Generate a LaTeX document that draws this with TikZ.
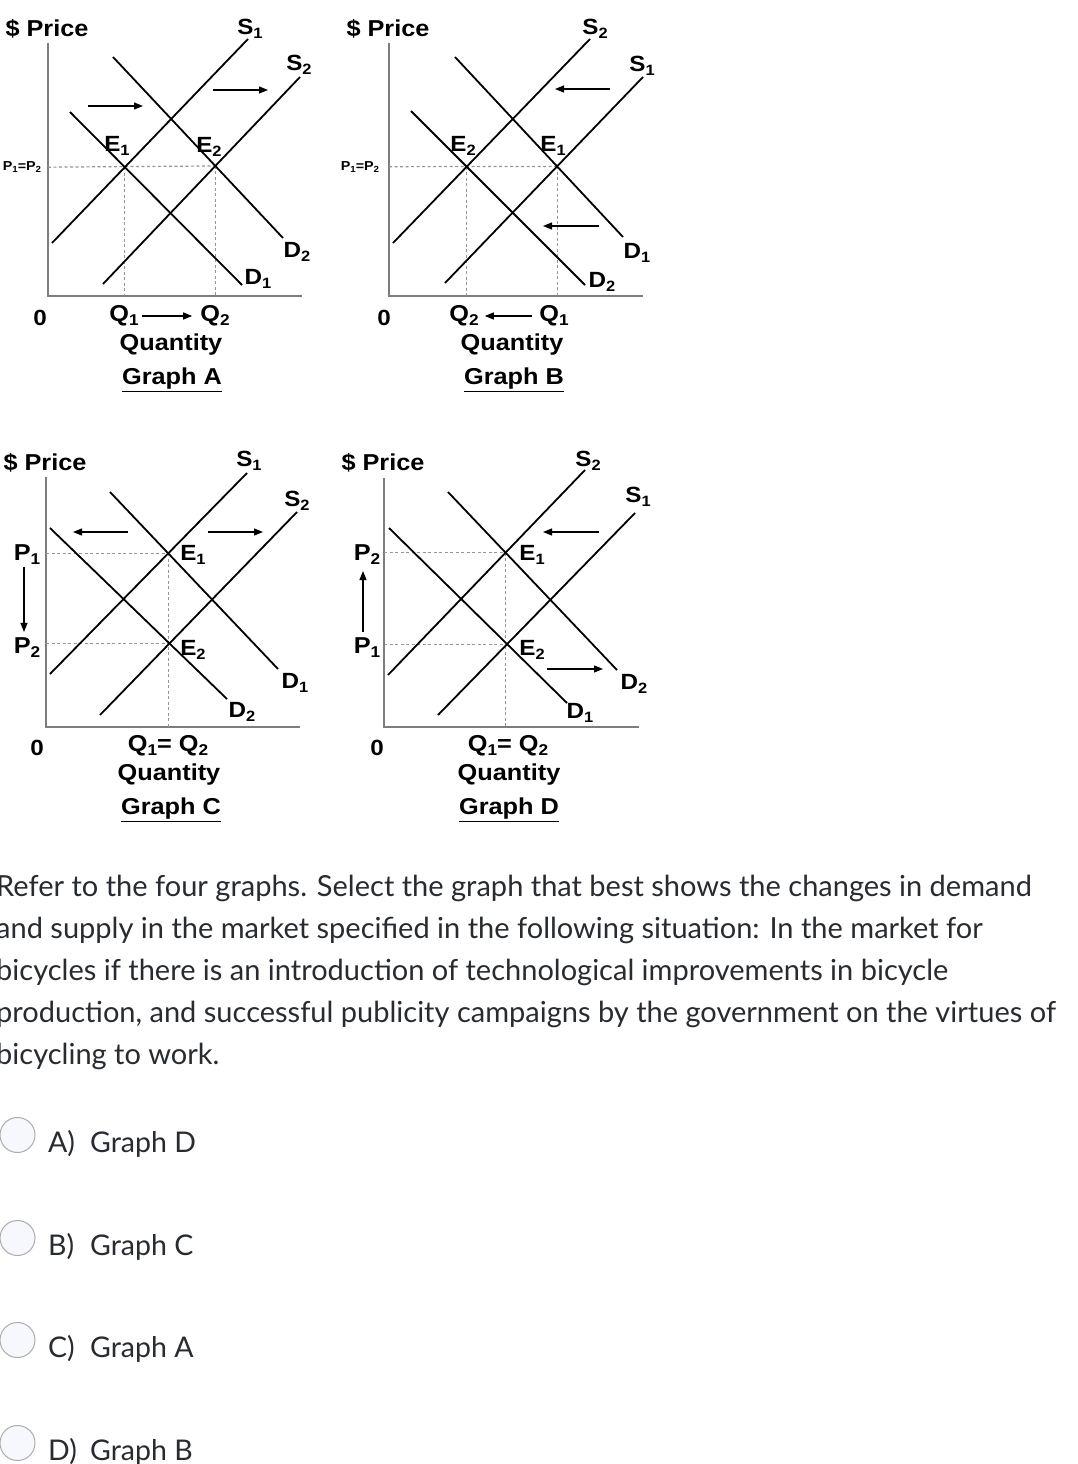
\documentclass[tikz,border=0pt]{standalone}
\usepackage{fontspec}
\setmainfont{Lato}
\newfontfamily\graphfont[FakeStretch=1.1]{Liberation Sans}
\usetikzlibrary{arrows.meta,positioning}
\definecolor{qtext}{RGB}{40,44,48}
\definecolor{axisgray}{RGB}{125,125,125}
\definecolor{dashgray}{RGB}{150,150,150}
\definecolor{radiofill}{RGB}{246,248,253}
\newcommand{\lowsub}[1]{\raisebox{-0.17em}{\scalebox{0.68}{#1}}}

\begin{document}
\begin{tikzpicture}[x=1pt, y=-1pt,
  curve/.style={line width=1.8pt, draw=black},
  axis/.style={line width=1.4pt, draw=axisgray},
  guide/.style={line width=1.2pt, draw=dashgray, dash pattern=on 3pt off 2.5pt},
  shiftarr/.style={line width=1.2pt, -{Triangle[length=9pt,width=7pt]}},
  lbl/.style={font=\graphfont\bfseries\fontsize{22}{24}\selectfont, inner sep=0pt},
  big/.style={font=\graphfont\bfseries\fontsize{23}{26}\selectfont, inner sep=0pt},
  plab/.style={font=\graphfont\bfseries\fontsize{13}{14}\selectfont, inner sep=0pt},
  uline/.style={line width=1.8pt},
  qline/.style={font=\fontsize{29}{36}\selectfont, text=qtext, anchor=base west, inner sep=0pt},
  radio/.style={circle, draw=gray!65, fill=radiofill, line width=1pt, minimum size=35pt, inner sep=0pt},
  opt/.style={font=\fontsize{28.5}{32}\selectfont, text=qtext, anchor=base west, inner sep=0pt}
]
\fill[white] (0,0) rectangle (1078,1464);
\useasboundingbox (0,0) rectangle (1078,1464);

% Graph A
\draw[axis] (48,43) -- (48,296) -- (302,296);
\coordinate (Aaxis) at (48,296);
\coordinate (As1a) at (52,243);  \coordinate (As1b) at (248,39);
\coordinate (As2a) at (103,284); \coordinate (As2b) at (300,77);
\coordinate (Ad1a) at (70,112);  \coordinate (Ad1b) at (242,285);
\coordinate (Ad2a) at (113,57);  \coordinate (Ad2b) at (283,238);
\coordinate (AE1) at (intersection of As1a--As1b and Ad1a--Ad1b);
\coordinate (AE2) at (intersection of As2a--As2b and Ad2a--Ad2b);
\draw[guide] (Aaxis |- AE1) -- (AE2);
\draw[guide] (AE1) -- (AE1 |- Aaxis);
\draw[guide] (AE2) -- (AE2 |- Aaxis);
\draw[curve] (As1a) -- (As1b);
\draw[curve] (As2a) -- (As2b);
\draw[curve] (Ad1a) -- (Ad1b);
\draw[curve] (Ad2a) -- (Ad2b);
\draw[shiftarr] (88,106) -- (143,106);
\draw[shiftarr] (213,90) -- (268,90);
\node[big] (Aprice) at (47,29) {\$ Price};
\node[lbl] (AS1) at (250,29) {S\lowsub{1}};
\node[lbl] (AS2) at (299,65) {S\lowsub{2}};
\node[lbl] (AlE1) at (117,146) {E\lowsub{1}};
\node[lbl] (AlE2) at (209,147) {E\lowsub{2}};
\node[lbl] (AD2) at (297,252) {D\lowsub{2}};
\node[lbl] (AD1) at (258,279) {D\lowsub{1}};
\node[plab] (AP) at (22,167) {P\lowsub{1}=P\lowsub{2}};
\node[lbl] (Azero) at (40,318) {0};
\node[big] (AQ1) at (124,316) {Q\lowsub{1}};
\node[big] (AQ2) at (215,316) {Q\lowsub{2}};
\draw[shiftarr, shorten <=3pt, shorten >=8pt] (AQ1) -- (AQ2);
\node[big] (Aqty) at (171,345) {Quantity};
\node[big] (Agraph) at (172,379) {Graph A};
\draw[uline] ([yshift=-1.5pt]Agraph.south west) -- ([yshift=-1.5pt]Agraph.south east);

% Graph B
\draw[axis] (389,43) -- (389,296) -- (643,296);
\coordinate (Baxis) at (389,296);
\coordinate (Bs2a) at (393,243); \coordinate (Bs2b) at (590,39);
\coordinate (Bs1a) at (445,283); \coordinate (Bs1b) at (643,77);
\coordinate (Bd2a) at (411,111); \coordinate (Bd2b) at (585,285);
\coordinate (Bd1a) at (455,57);  \coordinate (Bd1b) at (623,237);
\coordinate (BE2) at (intersection of Bs2a--Bs2b and Bd2a--Bd2b);
\coordinate (BE1) at (intersection of Bs1a--Bs1b and Bd1a--Bd1b);
\draw[guide] (Baxis |- BE2) -- (BE1);
\draw[guide] (BE2) -- (BE2 |- Baxis);
\draw[guide] (BE1) -- (BE1 |- Baxis);
\draw[curve] (Bs2a) -- (Bs2b);
\draw[curve] (Bs1a) -- (Bs1b);
\draw[curve] (Bd2a) -- (Bd2b);
\draw[curve] (Bd1a) -- (Bd1b);
\draw[shiftarr] (610,89) -- (555,89);
\draw[shiftarr] (599,226) -- (543,226);
\node[big] (Bprice) at (388,29) {\$ Price};
\node[lbl] (BS2) at (595,29) {S\lowsub{2}};
\node[lbl] (BS1) at (642,66) {S\lowsub{1}};
\node[lbl] (BlE2) at (463,146) {E\lowsub{2}};
\node[lbl] (BlE1) at (553,146) {E\lowsub{1}};
\node[plab] (BP) at (360,167) {P\lowsub{1}=P\lowsub{2}};
\node[lbl] (BD1) at (637,253) {D\lowsub{1}};
\node[lbl] (BD2) at (602,282) {D\lowsub{2}};
\node[lbl] (Bzero) at (384,318) {0};
\node[big] (BQ2) at (464,316) {Q\lowsub{2}};
\node[big] (BQ1) at (554,316) {Q\lowsub{1}};
\draw[shiftarr, shorten <=7pt, shorten >=6pt] (BQ1) -- (BQ2);
\node[big] (Bqty) at (512,345) {Quantity};
\node[big] (Bgraph) at (514,379) {Graph B};
\draw[uline] ([yshift=-1.5pt]Bgraph.south west) -- ([yshift=-1.5pt]Bgraph.south east);

% Graph C
\draw[axis] (46,477) -- (46,727) -- (300,727);
\coordinate (Caxis) at (46,727);
\coordinate (Cs1a) at (50,674);  \coordinate (Cs1b) at (247,473);
\coordinate (Cs2a) at (100,715); \coordinate (Cs2b) at (297,512);
\coordinate (Cd2a) at (50,528);  \coordinate (Cd2b) at (227,699);
\coordinate (Cd1a) at (110,492); \coordinate (Cd1b) at (278,669);
\coordinate (CE1) at (intersection of Cs1a--Cs1b and Cd1a--Cd1b);
\coordinate (CE2) at (intersection of Cs2a--Cs2b and Cd2a--Cd2b);
\draw[guide] (Caxis |- CE1) -- (CE1);
\draw[guide] (Caxis |- CE2) -- (CE2);
\draw[guide] (CE1) -- (CE1 |- Caxis);
\draw[curve] (Cs1a) -- (Cs1b);
\draw[curve] (Cs2a) -- (Cs2b);
\draw[curve] (Cd2a) -- (Cd2b);
\draw[curve] (Cd1a) -- (Cd1b);
\draw[shiftarr] (128,532) -- (73,532);
\draw[shiftarr] (208,532) -- (263,532);
\node[big] (Cprice) at (45,463) {\$ Price};
\node[lbl] (CS1) at (249,461) {S\lowsub{1}};
\node[lbl] (CS2) at (297,501) {S\lowsub{2}};
\node[lbl] (ClE1) at (193,555) {E\lowsub{1}};
\node[lbl] (ClE2) at (193,650) {E\lowsub{2}};
\node[lbl] (CD1) at (295,683) {D\lowsub{1}};
\node[lbl] (CD2) at (242,712) {D\lowsub{2}};
\node[big] (CP1) at (27,555) {P\lowsub{1}};
\node[big] (CP2) at (27,648) {P\lowsub{2}};
\draw[shiftarr] ([xshift=-3pt, yshift=-2pt]CP1.south) -- ([xshift=-3pt, yshift=6pt]CP2.north);
\node[lbl] (Czero) at (37,748) {0};
\node[big] (CQ) at (168,746) {Q\lowsub{1}= Q\lowsub{2}};
\node[big] (Cqty) at (169,775) {Quantity};
\node[big] (Cgraph) at (171,809) {Graph C};
\draw[uline] ([yshift=-1.5pt]Cgraph.south west) -- ([yshift=-1.5pt]Cgraph.south east);

% Graph D
\draw[axis] (384,478) -- (384,727) -- (639,727);
\coordinate (Daxis) at (384,727);
\coordinate (Ds2a) at (388,675); \coordinate (Ds2b) at (585,470);
\coordinate (Ds1a) at (438,715); \coordinate (Ds1b) at (635,513);
\coordinate (Dd1a) at (389,528); \coordinate (Dd1b) at (567,703);
\coordinate (Dd2a) at (448,492); \coordinate (Dd2b) at (617,670);
\coordinate (DE1) at (intersection of Ds2a--Ds2b and Dd2a--Dd2b);
\coordinate (DE2) at (intersection of Ds1a--Ds1b and Dd1a--Dd1b);
\draw[guide] (Daxis |- DE1) -- (DE1);
\draw[guide] (Daxis |- DE2) -- (DE2);
\draw[guide] (DE1) -- (DE1 |- Daxis);
\draw[curve] (Ds2a) -- (Ds2b);
\draw[curve] (Ds1a) -- (Ds1b);
\draw[curve] (Dd1a) -- (Dd1b);
\draw[curve] (Dd2a) -- (Dd2b);
\draw[shiftarr] (599,532) -- (543,532);
\draw[shiftarr] (547,669) -- (603,669);
\node[big] (Dprice) at (383,463) {\$ Price};
\node[lbl] (DS2) at (588,461) {S\lowsub{2}};
\node[lbl] (DS1) at (638,497) {S\lowsub{1}};
\node[lbl] (DlE1) at (532,555) {E\lowsub{1}};
\node[lbl] (DlE2) at (532,650) {E\lowsub{2}};
\node[lbl] (DD2) at (634,684) {D\lowsub{2}};
\node[lbl] (DD1) at (580,713) {D\lowsub{1}};
\node[big] (DP2) at (367,555) {P\lowsub{2}};
\node[big] (DP1) at (367,648) {P\lowsub{1}};
\draw[shiftarr] ([xshift=-4pt, yshift=6pt]DP1.north) -- ([xshift=-4pt, yshift=-6pt]DP2.south);
\node[lbl] (Dzero) at (377,748) {0};
\node[big] (DQ) at (508,746) {Q\lowsub{1}= Q\lowsub{2}};
\node[big] (Dqty) at (509,775) {Quantity};
\node[big] (Dgraph) at (509,809) {Graph D};
\draw[uline] ([yshift=-1.5pt]Dgraph.south west) -- ([yshift=-1.5pt]Dgraph.south east);

% question
\foreach \i/\txt in {0/{Refer to the four graphs. Select the graph that best shows the changes in demand},
  1/{and supply in the market specified in the following situation: In the market for},
  2/{bicycles if there is an introduction of technological improvements in bicycle},
  3/{production, and successful publicity campaigns by the government on the virtues of},
  4/{bicycling to work.}}
  \node[qline] (line\i) at (-4, 896+42*\i) {\txt};

% answers
\foreach \y/\l/\g in {1135/A/D, 1238/B/C, 1340/C/A, 1443/D/B} {
  \node[radio] (radio\l) at (17.5,\y) {};
  \node[opt] (key\l) at (48,\y+17) {\l)};
  \node[opt] (ans\l) at (90,\y+17) {Graph \g};
}
\end{tikzpicture}
\end{document}
